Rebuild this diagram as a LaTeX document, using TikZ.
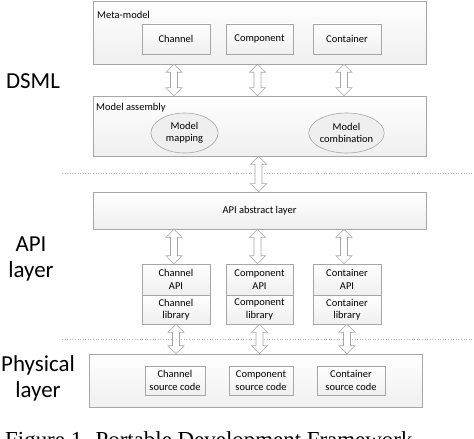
\documentclass[tikz,border=0pt]{standalone}
\usepackage{fontspec}
\setmainfont{Carlito}
\newfontfamily\capfont{Liberation Serif}
\usetikzlibrary{calc,shapes.geometric,shadows}
\definecolor{boxline}{HTML}{A6A6A6}
\definecolor{boxfill}{HTML}{EFEFEF}
\tikzset{
  panel/.style={draw=boxline, top color=white, bottom color=boxfill, line width=0.6pt,
    drop shadow={opacity=0.18, shadow xshift=1.2pt, shadow yshift=-1.2pt},
    inner sep=0pt, font=\fontsize{10.5}{12.5}\selectfont, align=center},
  ell/.style={ellipse, draw=boxline, fill=boxfill, line width=0.6pt, inner sep=0pt,
    font=\fontsize{10.5}{12.5}\selectfont, align=center},
  lbl/.style={font=\fontsize{10.5}{12.5}\selectfont, inner sep=0pt},
  big/.style={font=\fontsize{23}{26}\selectfont, align=center, inner sep=0pt},
  arrowsty/.style={draw=boxline, fill=white, line width=0.6pt, line join=miter},
  sep/.style={draw=gray!60, dotted, line width=0.6pt}
}
\newcommand\udarrow[2]{%
  \draw[arrowsty] let \p1=(#1), \p2=(#2) in
    (\x1,\y1) -- (\x1+8bp,\y1-8bp) -- (\x1+3.5bp,\y1-8bp) -- (\x1+3.5bp,\y2+8bp)
    -- (\x1+8bp,\y2+8bp) -- (\x1,\y2) -- (\x1-8bp,\y2+8bp) -- (\x1-3.5bp,\y2+8bp)
    -- (\x1-3.5bp,\y1-8bp) -- (\x1-8bp,\y1-8bp) -- cycle;}
\begin{document}
\begin{tikzpicture}[x=1bp,y=-1bp]
\useasboundingbox (0,0) rectangle (474,439);
% DSML
\node[panel, minimum width=333bp, minimum height=63bp] (meta) at (259.5,32.5) {};
\node[lbl, anchor=west] (metal) at (97,15) {Meta-model};
\node[panel, minimum width=68bp, minimum height=30bp] (chan) at (176,39) {Channel};
\node[panel, minimum width=67bp, minimum height=30bp] (comp) at (259.5,39) {Component};
\node[panel, minimum width=68bp, minimum height=30bp] (cont) at (347,39) {Container};
\node[panel, minimum width=333bp, minimum height=60bp] (asm) at (259.5,126) {};
\node[lbl, anchor=west] (asml) at (96,108) {Model assembly};
\node[ell, minimum width=67bp, minimum height=40bp] (map) at (184.5,133) {Model\\mapping};
\node[ell, minimum width=75bp, minimum height=40bp] (comb) at (346.5,133) {Model\\combination};
% API
\node[panel, minimum width=333bp, minimum height=37bp] (api) at (259.5,210.5) {API abstract layer};
\node[panel, minimum width=68bp, minimum height=31bp] (chapi) at (176,279.5) {Channel\\API};
\node[panel, minimum width=68bp, minimum height=29bp] (chlib) at (176,309.5) {Channel\\library};
\node[panel, minimum width=67bp, minimum height=31bp] (coapi) at (259.5,279.5) {Component\\API};
\node[panel, minimum width=67bp, minimum height=29bp] (colib) at (259.5,309.5) {Component\\library};
\node[panel, minimum width=68bp, minimum height=31bp] (ctapi) at (347,279.5) {Container\\API};
\node[panel, minimum width=68bp, minimum height=29bp] (ctlib) at (347,309.5) {Container\\library};
% Physical
\node[panel, minimum width=333bp, minimum height=53bp] (phys) at (255.5,380.5) {};
\node[panel, minimum width=60bp, minimum height=29bp] (chsrc) at (175,380.5) {Channel\\source code};
\node[panel, minimum width=64bp, minimum height=29bp] (cosrc) at (261,380.5) {Component\\source code};
\node[panel, minimum width=68bp, minimum height=29bp] (ctsrc) at (351,380.5) {Container\\source code};
% separators
\coordinate (s1a) at (62,173); \coordinate (s1b) at (474,173);
\coordinate (s2a) at (62,339); \coordinate (s2b) at (474,339);
\draw[sep] (s1a) -- (s1b);
\draw[sep] (s2a) -- (s2b);
% arrows
\udarrow{$(meta.south -| chan)+(-2,0)$}{asm.north}
\udarrow{$(meta.south -| comp)+(-2,0)$}{asm.north}
\udarrow{$(meta.south -| cont)+(-3,0)$}{asm.north}
\udarrow{$(asm.south)+(-1,0)$}{api.north}
\udarrow{$(api.south -| chapi)+(-2,0)$}{chapi.north}
\udarrow{$(api.south -| coapi)+(-2,0)$}{coapi.north}
\udarrow{$(api.south -| ctapi)+(-3,0)$}{ctapi.north}
\udarrow{chlib.south}{phys.north}
\udarrow{colib.south}{phys.north}
\udarrow{ctlib.south}{phys.north}
% layer labels
\node[big] (dsml) at (33,81) {DSML};
\node[big] (apil) at (31,259) {API\\layer};
\node[big] (physl) at (38,378) {Physical\\layer};
% caption (cut off by the lower edge, as in the reference)
\node[font=\capfont\fontsize{23}{27}\selectfont, anchor=base west, inner sep=0pt] (cap) at (5,447) {Figure 1. Portable Development Framework};
\end{tikzpicture}
\end{document}
